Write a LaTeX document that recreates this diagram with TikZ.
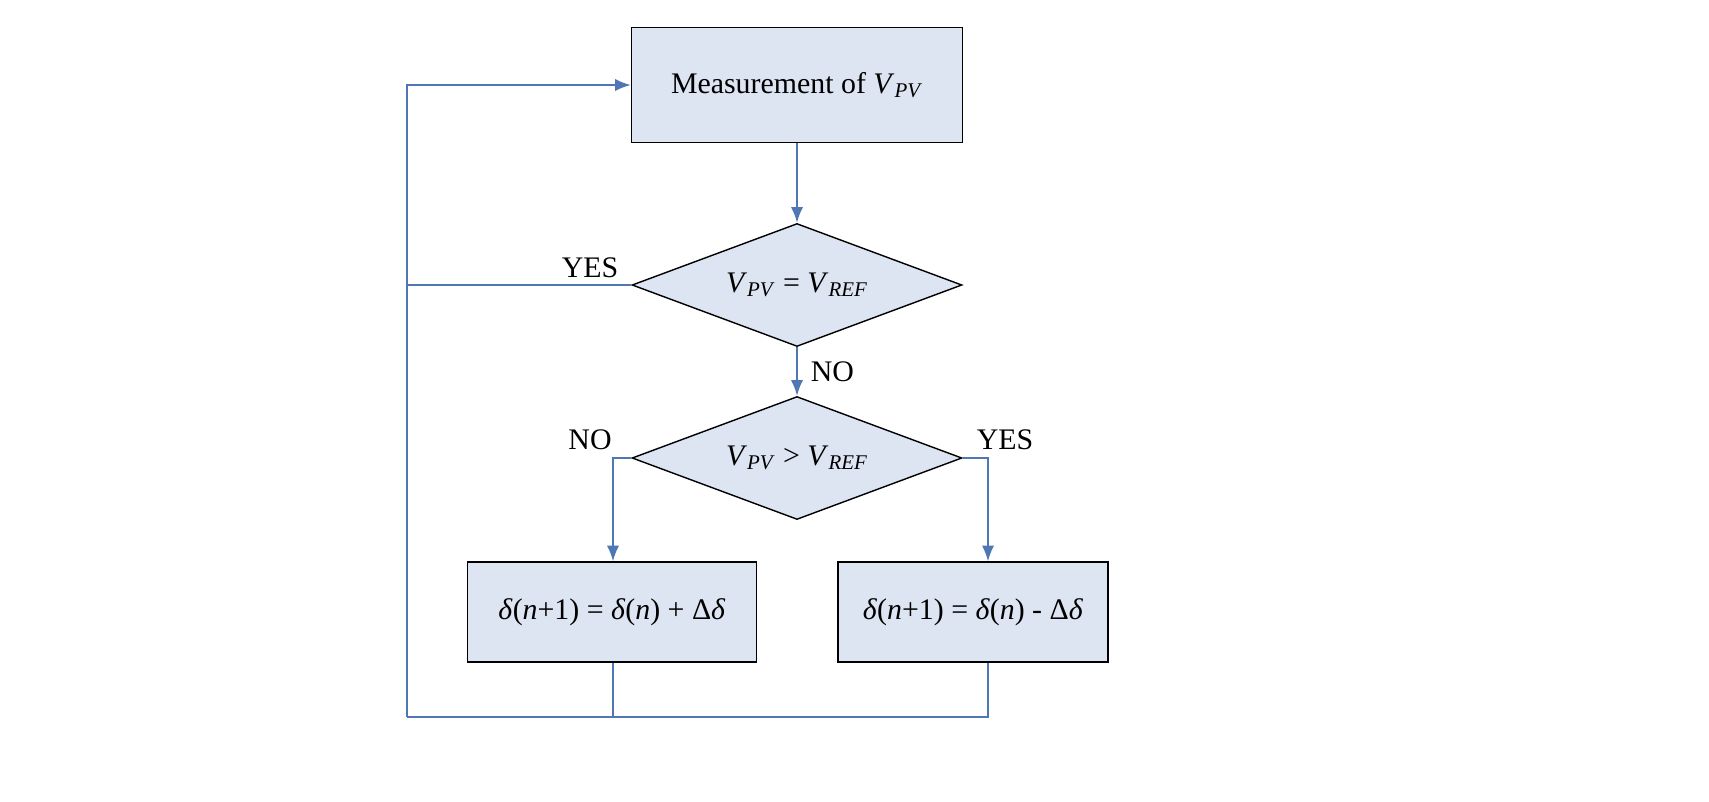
\documentclass[tikz,border=0pt]{standalone}
\usepackage{fontspec}
\setmainfont{Liberation Serif}
\usepackage{tikz}
\usetikzlibrary{shapes.geometric,arrows.meta}
\definecolor{flowline}{RGB}{79,119,179}
\definecolor{flowfill}{RGB}{221,229,243}
\newcommand{\volt}[1]{\textit{V}\textsubscript{\textit{#1}}}
\begin{document}
\begin{tikzpicture}[x=0.02cm,y=-0.02cm,font=\fontsize{17}{20}\selectfont,
    box/.style={draw=black,fill=flowfill,line width=0.8pt,inner sep=0pt},
    test/.style={diamond,draw=black,fill=flowfill,line width=0.8pt,inner sep=0pt,shape aspect=2.7,minimum width=6.6cm,minimum height=2.46cm},
    flow/.style={draw=flowline,line width=1pt},
    arr/.style={flow,-{Latex[length=9pt,width=7pt]}}]
    \useasboundingbox (0,0) rectangle (1709,801);
    % nodes
    \node[box,minimum width=6.62cm,minimum height=2.3cm] (meas) at (797,85) {Measurement of \volt{PV}};
    \node[test] (eq) at (797,285) {\volt{PV} = \volt{REF}};
    \node[test] (gt) at (797,458) {\volt{PV} > \volt{REF}};
    \node[box,minimum width=5.78cm,minimum height=2cm] (inc) at (612,612) {\textit{δ}(\textit{n}+1) = \textit{δ}(\textit{n}) + Δ\textit{δ}};
    \node[box,minimum width=5.4cm,minimum height=2cm] (dec) at (973,612) {\textit{δ}(\textit{n}+1) = \textit{δ}(\textit{n}) - Δ\textit{δ}};
    \coordinate (loopT) at (407,85);
    \coordinate (loopB) at (407,717);
    \coordinate (incB) at (613,717);
    \coordinate (decB) at (988,717);
    % connectors
    \draw[arr] (meas) -- (eq);
    \draw[arr] (eq) -- node[right,xshift=4pt] {NO} (gt);
    \draw[flow] (eq.west) -- (eq.west -| loopT);
    \draw[arr] (loopB) -- (loopT) -- (meas.west);
    \draw[arr] (gt.west) -| (incB |- inc.north);
    \draw[arr] (gt.east) -| (decB |- dec.north);
    \draw[flow] (inc.south -| incB) -- (incB);
    \draw[flow] (dec.south -| decB) -- (decB) -- (loopB);
    % labels
    \node at (590,268) {YES};
    \node at (590,440) {NO};
    \node at (1005,440) {YES};
\end{tikzpicture}
\end{document}
